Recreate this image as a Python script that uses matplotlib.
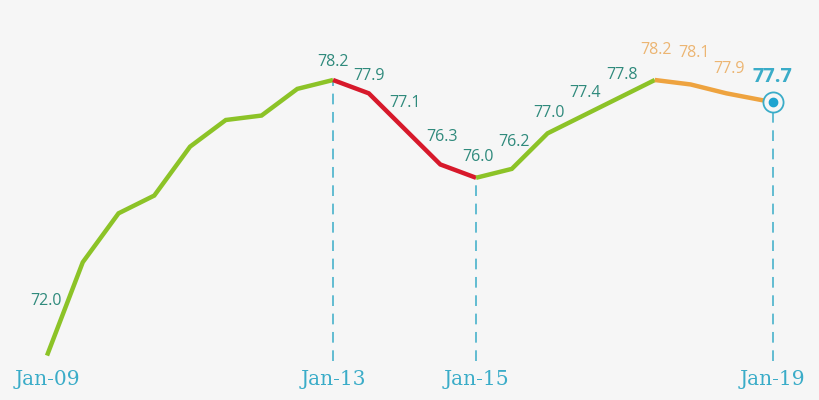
import matplotlib.pyplot as plt

# half-year steps from Jan-09; last reading drawn slightly past the regular step
x_pos = [0, 1, 2, 3, 4, 5, 6, 7, 8, 9, 10, 11, 12, 13, 14, 15, 16, 17, 18, 19, 20.3]
values = [72.0, 74.1, 75.2, 75.6, 76.7, 77.3, 77.4, 78.0, 78.2, 77.9, 77.1,
          76.3, 76.0, 76.2, 77.0, 77.4, 77.8, 78.2, 78.1, 77.9, 77.7]

# (start, end) index of each coloured stretch
segments = [(0, 8, '#8cc327'), (8, 12, '#d7192b'), (12, 17, '#8cc327'), (17, 20, '#eea33f')]

labelled = [0, 8, 9, 10, 11, 12, 13, 14, 15, 16, 17, 18, 19]
# label centre offset from the point, in pixels
label_offsets = {0: (-1, 55), 8: (0, 18), 9: (0, 17), 10: (0, 26), 11: (2, 27),
                 12: (2, 21), 13: (2, 27), 14: (1, 20), 15: (2, 23), 16: (3, 23),
                 17: (1, 30), 18: (3, 31), 19: (3, 24)}
orange_idx = [17, 18, 19]

tick_idx = [0, 8, 12, 20]
tick_labels = ['Jan-09', 'Jan-13', 'Jan-15', 'Jan-19']
dashed_idx = [8, 12, 20]

bg = '#f6f6f6'
blue = '#3aacc8'
teal = '#2f8a7c'
px = 0.72  # points per pixel at 100 dpi

fig = plt.figure(figsize=(8.2, 4), dpi=100, facecolor=bg)
ax = fig.add_axes([0, 0, 1, 1])
ax.set_facecolor(bg)
ax.set_xlim(-1.315, 21.62)
ax.set_ylim(71.0, 80.0)
ax.axis('off')

for i in dashed_idx:
    ax.plot([x_pos[i], x_pos[i]], [71.87, values[i]], color=blue, lw=1.1,
            dashes=(7, 5), zorder=1)

for a, b, c in segments:
    ax.plot(x_pos[a:b + 1], values[a:b + 1], color=c, lw=3.2,
            solid_capstyle='butt', solid_joinstyle='miter', zorder=2)

for i in labelled:
    col = '#ecb572' if i in orange_idx else teal
    dx, dy = label_offsets[i]
    ax.annotate('%.1f' % values[i], (x_pos[i], values[i]), xytext=(dx * px, dy * px),
                textcoords='offset points', ha='center', va='center',
                fontsize=11.5, color=col, family='Open Sans')

# last point highlighted
ax.plot(x_pos[-1], values[-1], 'o', ms=14.5, mfc=bg, mec=blue, mew=1.3, zorder=3)
ax.plot(x_pos[-1], values[-1], 'o', ms=6, color='#1ea3cf', zorder=4)
ax.annotate('%.1f' % values[-1], (x_pos[-1], values[-1]), xytext=(0, 25 * px),
            textcoords='offset points', ha='center', va='center',
            fontsize=14.5, fontweight='bold', color=blue, family='Open Sans')

for i, t in zip(tick_idx, tick_labels):
    ax.text(x_pos[i], 71.45, t, ha='center', va='center', fontsize=14.5,
            color=blue, family='DejaVu Serif')

fig.savefig('out.png', dpi=100, facecolor=bg)
